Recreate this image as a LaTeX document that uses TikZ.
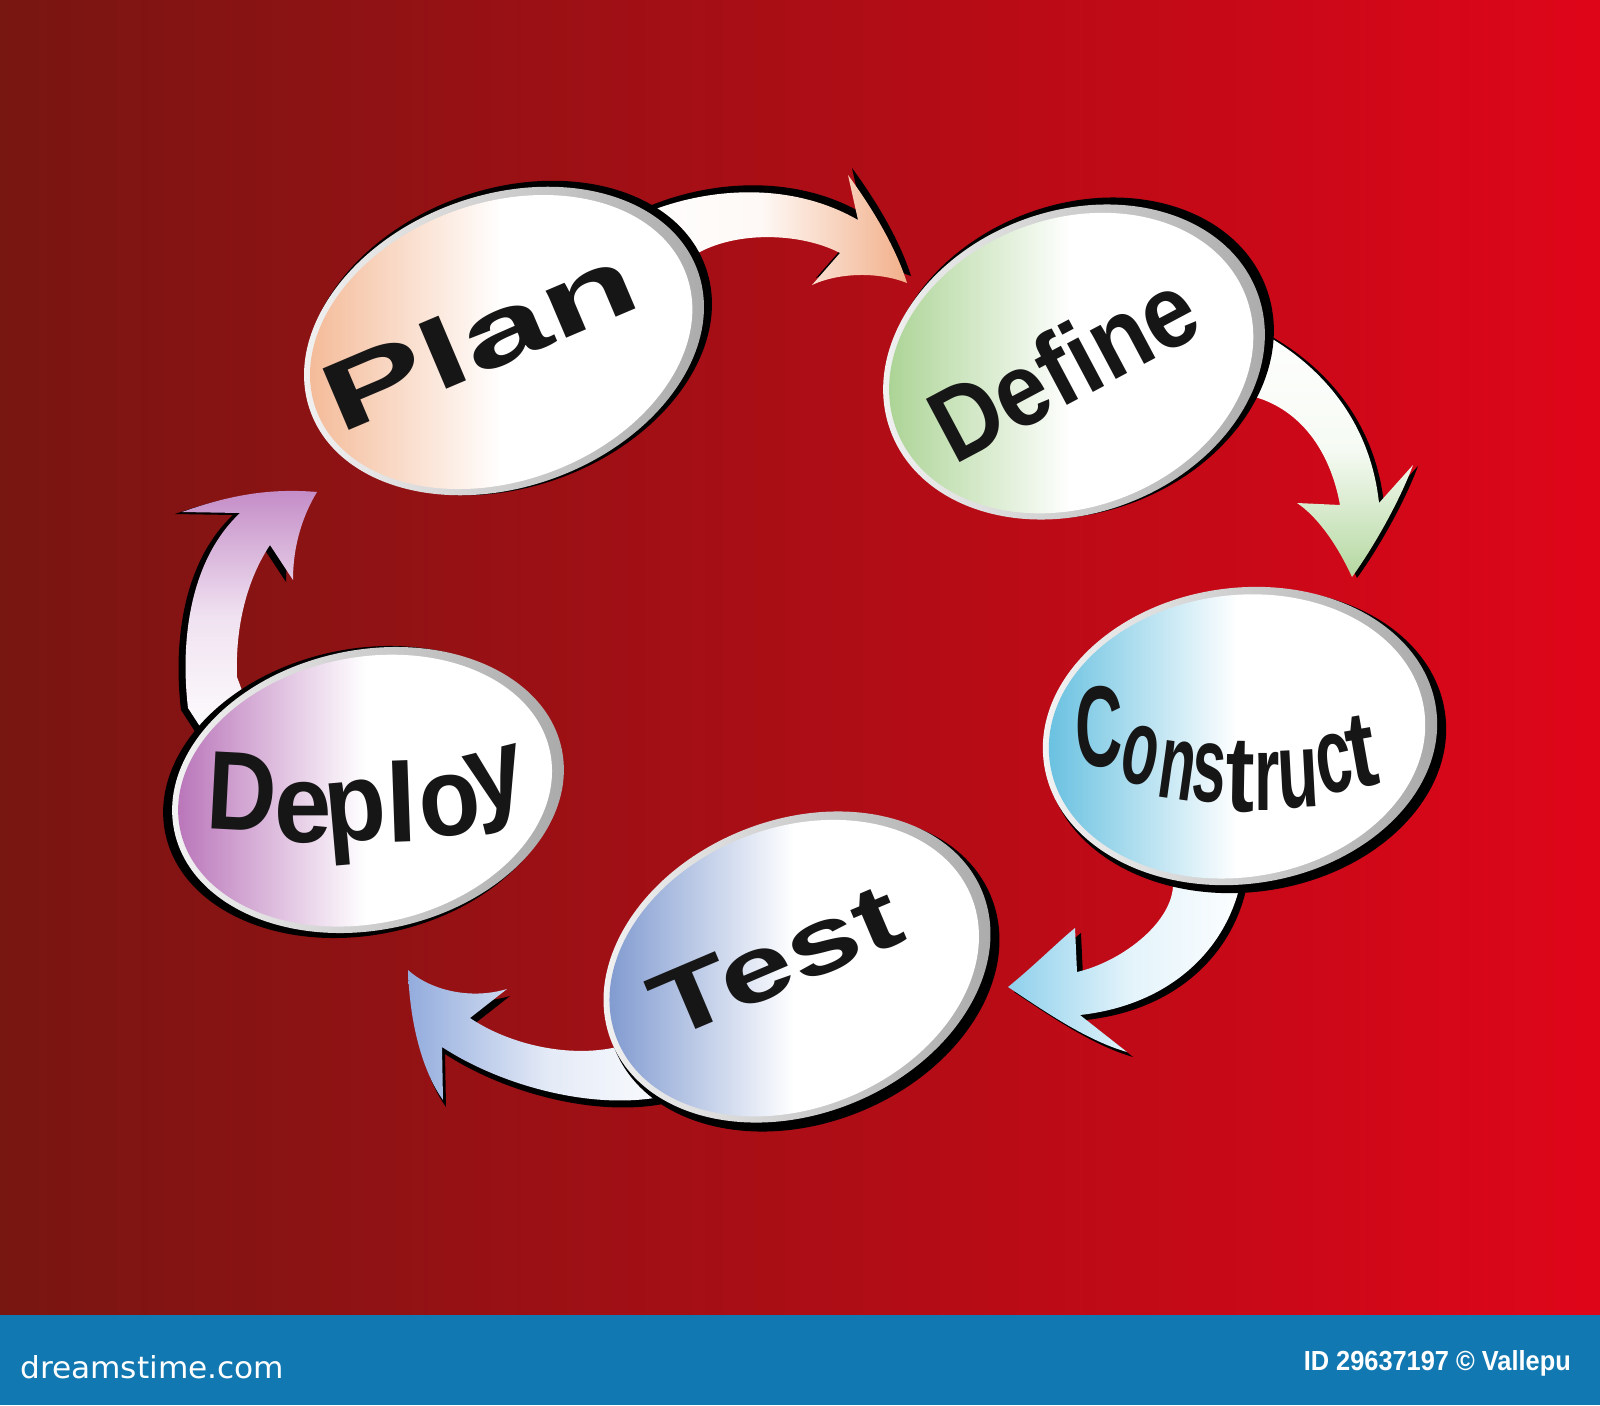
\documentclass[tikz,border=0pt]{standalone}
\usepackage{fontspec}
\usepackage{graphicx}
\setmainfont{Liberation Sans}
\newfontfamily\dsfont{DejaVu Sans}
\definecolor{bgL}{HTML}{781612}
\definecolor{bgR}{HTML}{DF0519}
\definecolor{barblue}{HTML}{1178B1}
\definecolor{rimL}{HTML}{F4F4F4}
\definecolor{rimR}{HTML}{A8A8A8}
\definecolor{cPlan}{HTML}{F3B48E}
\definecolor{cDefine}{HTML}{A3CF8A}
\definecolor{cConstr}{HTML}{62BEDF}
\definecolor{cTest}{HTML}{7390CB}
\definecolor{cDeploy}{HTML}{B56DB5}
\definecolor{aPlan}{HTML}{F2B08A}
\definecolor{aDefine}{HTML}{B4D8A0}
\definecolor{aConstr}{HTML}{8FD0EC}
\definecolor{aTest}{HTML}{93ACDD}
\definecolor{aDeploy}{HTML}{C38BC6}
\definecolor{ink}{HTML}{161616}
% #1 x, #2 y, #3 a, #4 b, #5 angle, #6 colour, #7 dx, #8 dy
\newcommand{\bubble}[8]{%
  \fill[black, rotate around={#5:(#1+#7,#2+#8)}] (#1+#7,#2+#8) ellipse [x radius=#3pt+3pt, y radius=#4pt+3pt];
  \shade[left color=rimL, right color=rimR, rotate around={#5:(#1,#2)}] (#1,#2) ellipse [x radius=#3pt, y radius=#4pt];
  \shade[left color=#6, right color=white, middle color=white, rotate around={#5:(#1,#2)}] (#1-3,#2) ellipse [x radius=#3pt-9pt, y radius=#4pt-7pt];
}
\newcommand{\cstfont}{\fontsize{108}{108}\selectfont\bfseries}
\newcommand{\dplfont}{\fontsize{112}{112}\selectfont\bfseries}
\def\arrowA{(615,228) .. controls (680,190) and (780,175) .. (858,220) -- (848,175) .. controls (870,205) and (895,245) .. (907,283) .. controls (880,272) and (840,272) .. (812,285) -- (840,253) .. controls (800,232) and (730,230) .. (690,258) -- (660,292) -- cycle}
\def\arrowB{(1228,322) -- (1262,333) .. controls (1320,365) and (1370,420) .. (1379,503) -- (1413,465) .. controls (1400,500) and (1375,545) .. (1352,577) .. controls (1335,540) and (1315,515) .. (1297,503) -- (1340,505) .. controls (1330,450) and (1300,410) .. (1255,397) -- (1222,395) -- cycle}
\def\arrowC{(1252,845) -- (1240,885) .. controls (1225,950) and (1170,1005) .. (1080,1015) -- (1127,1052) .. controls (1085,1040) and (1040,1008) .. (1008,987) .. controls (1035,965) and (1060,940) .. (1075,928) -- (1077,972) .. controls (1120,962) and (1170,925) .. (1173,887) -- (1176,850) -- cycle}
\def\arrowD{(650,1038) -- (617,1047) .. controls (570,1058) and (510,1045) .. (470,1018) -- (507,989) .. controls (470,1000) and (430,990) .. (408,970) .. controls (410,1030) and (425,1075) .. (443,1100) -- (442,1047) .. controls (500,1085) and (590,1110) .. (660,1097) -- (690,1085) -- cycle}
\def\arrowE{(212,745) -- (188,708) .. controls (180,640) and (190,560) .. (240,513) -- (182,512) .. controls (230,495) and (270,488) .. (317,492) .. controls (303,515) and (293,545) .. (293,580) -- (270,545) .. controls (250,575) and (235,620) .. (237,677) -- (250,712) -- cycle}
\begin{document}
\begin{tikzpicture}[x=1pt,y=-1pt,
  lbl/.style={inner sep=0pt, text=ink, font=\bfseries},
  shadowfill/.style={fill=black}]
\useasboundingbox (0,0) rectangle (1600,1405);
% background
\shade[left color=bgL, right color=bgR] (0,0) rectangle (1600,1315);
\fill[barblue] (0,1315) rectangle (1600,1405);
% arrows
\fill[shadowfill, shift={(4,-7)}] \arrowA;
\shade[left color=white, right color=aPlan, middle color=white!92!aPlan] \arrowA;
\fill[shadowfill, shift={(5,1)}] \arrowB;
\shade[top color=white, bottom color=aDefine, middle color=white!88!aDefine] \arrowB;
\fill[shadowfill, shift={(6,5)}] \arrowC;
\shade[left color=aConstr, right color=white, middle color=white!75!aConstr] \arrowC;
\fill[shadowfill, shift={(3,7)}] \arrowD;
\shade[left color=aTest, right color=white, middle color=white!75!aTest] \arrowD;
\fill[shadowfill, shift={(-7,2)}] \arrowE;
\shade[top color=aDeploy, bottom color=white, middle color=white!75!aDeploy] \arrowE;
% bubbles
\bubble{504}{341}{206}{146}{20}{cPlan}{5}{-3}
\bubble{1074}{362}{196}{151}{21}{cDefine}{6}{-4}
\bubble{1240}{736}{198}{148}{8}{cConstr}{6}{5}
\bubble{797}{967}{200}{147}{22}{cTest}{6}{6}
\bubble{368}{790}{198}{140}{12}{cDeploy}{-6}{2}
% labels
\node[lbl, rotate=23] (plantext) at (479,338) {\fontsize{97}{97}\selectfont\bfseries\scalebox{1.62}[1]{Plan}};
\node[lbl, rotate=28] (definetext) at (1063,366) {\fontsize{104}{104}\selectfont\bfseries\scalebox{0.9}[1]{Define}};
\node[lbl, rotate=23] (testtext) at (776,961) {\fontsize{93}{93}\selectfont\bfseries\scalebox{1.42}[1]{Test}};
% Construct, letter by letter along its curve
\node[lbl, anchor=base, rotate=0] (c1) at (1099,766) {\fontsize{115}{115}\selectfont\bfseries\scalebox{0.57}[1]{C}};
\node[lbl, anchor=base, rotate=-10] (c2) at (1135,784) {\cstfont\scalebox{0.55}[1]{o}};
\node[lbl, anchor=base, rotate=-8] (c3) at (1173,799) {\cstfont\scalebox{0.55}[1]{n}};
\node[lbl, anchor=base, rotate=-4] (c4) at (1207,802) {\cstfont\scalebox{0.56}[1]{s}};
\node[lbl, anchor=base, rotate=-1] (c5) at (1240,812) {\cstfont\scalebox{0.8}[1]{t}};
\node[lbl, anchor=base, rotate=0] (c6) at (1267,810) {\cstfont\scalebox{0.6}[1]{r}};
\node[lbl, anchor=base, rotate=3] (c7) at (1300,807) {\cstfont\scalebox{0.62}[1]{u}};
\node[lbl, anchor=base, rotate=8] (c8) at (1338,792) {\cstfont\scalebox{0.6}[1]{c}};
\node[lbl, anchor=base, rotate=10] (c9) at (1368,786) {\cstfont\scalebox{0.8}[1]{t}};
% Deploy, letter by letter
\node[lbl, anchor=base, rotate=-3] (d1) at (240,830) {\dplfont\scalebox{0.86}[1]{D}};
\node[lbl, anchor=base, rotate=0] (d2) at (303,842) {\dplfont\scalebox{0.92}[1]{e}};
\node[lbl, anchor=base, rotate=5] (d3) at (358,841) {\dplfont\scalebox{0.9}[1]{p}};
\node[lbl, anchor=base, rotate=2] (d4) at (403,842) {\dplfont l};
\node[lbl, anchor=base, rotate=6] (d5) at (453,835) {\dplfont\scalebox{0.9}[1]{o}};
\node[lbl, anchor=base, rotate=14] (d6) at (503,808) {\dplfont\scalebox{0.92}[1]{y}};
% bottom bar texts
\node[inner sep=0pt, anchor=base west, text=white] (brand) at (20,1378) {\resizebox{264pt}{23pt}{\dsfont dreamstime.com}};
\node[inner sep=0pt, anchor=base east, text=white] (credit) at (1571,1370) {\resizebox{267pt}{20pt}{\bfseries ID 29637197 © Vallepu}};
\end{tikzpicture}
\end{document}
